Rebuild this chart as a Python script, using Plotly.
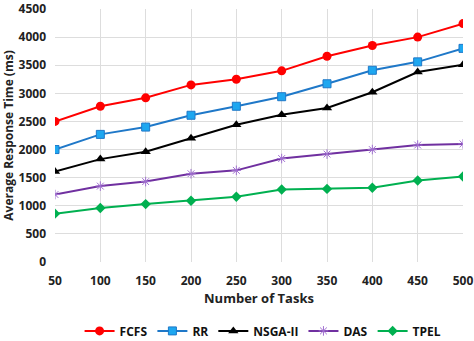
import plotly.graph_objects as go

tasks = [50, 100, 150, 200, 250, 300, 350, 400, 450, 500]
fcfs = [2500, 2770, 2920, 3150, 3250, 3400, 3660, 3850, 4000, 4240]
rr = [2000, 2270, 2400, 2610, 2770, 2940, 3170, 3410, 3560, 3800]
nsga = [1610, 1830, 1960, 2200, 2440, 2620, 2740, 3020, 3380, 3510]
das = [1200, 1350, 1430, 1570, 1630, 1840, 1920, 2000, 2080, 2100]
tpel = [860, 960, 1030, 1090, 1160, 1290, 1300, 1320, 1450, 1520]
y_ticks = [0, 500, 1000, 1500, 2000, 2500, 3000, 3500, 4000, 4500]

series = [
    ("FCFS", fcfs, "#FF0000", dict(symbol="circle", size=9, color="#FF0000")),
    ("RR", rr, "#1F78C8", dict(symbol="square", size=8, color="#1EA7F0", line=dict(color="#1F78C8", width=1))),
    ("NSGA-II", nsga, "#000000", dict(symbol="triangle-up", size=9, color="#000000")),
    ("DAS", das, "#7030A0", dict(symbol="asterisk", size=8, color="#B48CDC", line=dict(color="#A070D0", width=1))),
    ("TPEL", tpel, "#00B050", dict(symbol="diamond", size=8, color="#00B050")),
]

fig = go.Figure()
for name, vals, col, mk in series:
    fig.add_trace(go.Scatter(x=tasks, y=vals, name=f"<b>{name}</b>", mode="lines+markers",
                             line=dict(color=col, width=2), marker=mk))

fig.update_layout(
    width=474, height=341,
    margin=dict(l=55, r=11, t=9, b=79, autoexpand=False),
    plot_bgcolor="white", paper_bgcolor="white",
    font=dict(family="Open Sans", size=11, color="#222222"),
    showlegend=True,
    legend=dict(orientation="h", x=0.51, xanchor="center", y=-0.215, yanchor="top",
                font=dict(family="Open Sans", size=12, color="#111111"),
                itemwidth=30, tracegroupgap=0),
)
fig.update_xaxes(range=[50, 500], tickvals=tasks, ticktext=[f"<b>{t}</b>" for t in tasks],
                 showgrid=True, gridcolor="#DDDDDD", automargin=False,
                 zeroline=False, showline=False, ticks="", ticklabelstandoff=10,
                 tickfont=dict(family="Open Sans", size=12, color="#222222"),
                 title=dict(text="<b>Number of Tasks</b>", font=dict(size=13), standoff=4))
fig.update_yaxes(range=[0, 4500], tickvals=y_ticks, ticktext=[f"<b>{t}</b>" for t in y_ticks],
                 showgrid=True, gridcolor="#DDDDDD", automargin=False, ticklabeloverflow="allow",
                 zeroline=False, showline=False, ticks="", ticklabelstandoff=8,
                 tickfont=dict(family="Open Sans", size=12, color="#222222"),
                 title=dict(text="<b>Average Response Time (ms)</b>", font=dict(size=12), standoff=2))
fig.write_html("out.html")
